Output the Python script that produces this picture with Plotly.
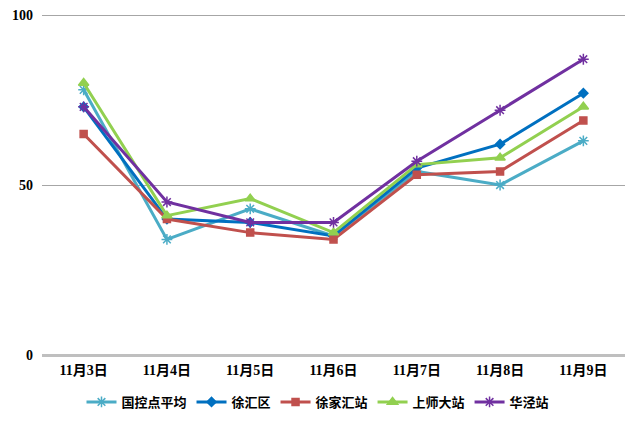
import plotly.graph_objects as go

categories = ["11月3日", "11月4日", "11月5日", "11月6日", "11月7日", "11月8日", "11月9日"]
guokong = [78, 34, 43, 35, 54, 50, 63]
xuhuiqu = [73, 40, 39, 35, 55, 62, 77]
xujiahui = [65, 40, 36, 34, 53, 54, 69]
shangshi = [80, 41, 46, 36, 56, 58, 73]
huajing = [73, 45, 39, 39, 57, 72, 87]
y_ticks = [0, 50, 100]

series = [
    ("国控点平均", guokong, "#4BACC6", "asterisk-open", 9),
    ("徐汇区", xuhuiqu, "#0070C0", "diamond", 7),
    ("徐家汇站", xujiahui, "#C0504D", "square", 7),
    ("上师大站", shangshi, "#92D050", "triangle-up", 9),
    ("华泾站", huajing, "#7030A0", "asterisk-open", 9),
]

fig = go.Figure()
for name, vals, color, sym, size in series:
    fig.add_trace(go.Scatter(
        x=categories, y=vals, name=name, mode="lines+markers",
        line=dict(color=color, width=3),
        marker=dict(symbol=sym, size=size, color=color,
                    line=dict(color=color, width=1.5)),
    ))

W, H = 632, 416
fig.update_layout(
    width=W, height=H,
    margin=dict(l=34, r=15, t=5, b=69),
    plot_bgcolor="white", paper_bgcolor="white",
    showlegend=True,
    legend=dict(orientation="h", x=(318 - 8) / W, xanchor="center", xref="container",
                y=1 - (402 - 8) / H, yanchor="middle", yref="container",
                font=dict(family="Noto Sans CJK SC", size=13, color="#000000", weight="bold"),
                itemwidth=30, tracegroupgap=0),
    font=dict(family="Liberation Serif, Noto Sans CJK SC", size=12, color="#000000"),
)
fig.update_xaxes(
    range=[-0.5, len(categories) - 0.5],
    showgrid=False, showline=False, zeroline=False, ticks="", automargin=False,
    ticklabelstandoff=5,
    tickfont=dict(family="Liberation Serif, Noto Sans CJK SC", size=14, color="#000000", weight="bold"),
)
fig.update_yaxes(
    range=[0, 100.6], tickvals=y_ticks, showgrid=True, gridcolor="#A6A6A6", gridwidth=1,
    zeroline=True, zerolinecolor="#BFBFBF", zerolinewidth=2.5, showline=False, ticks="",
    automargin=False, ticklabelstandoff=8, ticklabeloverflow="allow",
    tickfont=dict(family="Liberation Serif", size=14, color="#000000", weight="bold"),
)

fig.write_html("out.html")
